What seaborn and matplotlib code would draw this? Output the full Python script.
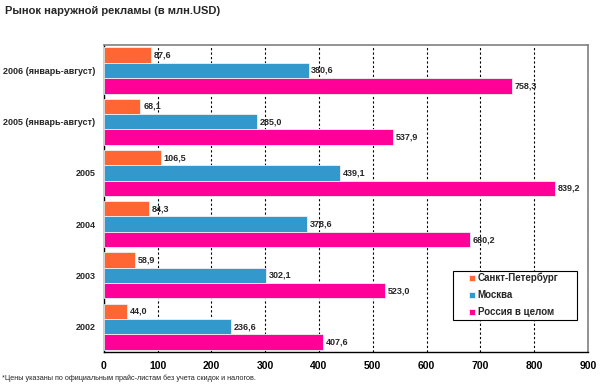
import pandas as pd
import matplotlib.pyplot as plt
import matplotlib.patches as mpatches
import seaborn as sns

periods = ["2006 (январь-август)", "2005 (январь-август)", "2005", "2004", "2003", "2002"]
spb = [87.6, 68.1, 106.5, 84.3, 58.9, 44.0]
moscow = [380.6, 285.0, 439.1, 378.6, 302.1, 236.6]
russia = [758.3, 537.9, 839.2, 680.2, 523.0, 407.6]
series = ["Санкт-Петербург", "Москва", "Россия в целом"]
colors = ["#FF6633", "#3399CC", "#FF0099"]

rows = []
for p, a, b, c in zip(periods, spb, moscow, russia):
    rows.append((p, series[0], a))
    rows.append((p, series[1], b))
    rows.append((p, series[2], c))
df = pd.DataFrame(rows, columns=["period", "series", "value"])

sns.set_style("white")
plt.rcParams["font.family"] = ["Liberation Sans", "DejaVu Sans"]
plt.rcParams["font.weight"] = "bold"

fig = plt.figure(figsize=(6, 3.87), dpi=100)
ax = fig.add_axes([0.173, 0.09, 0.807, 0.794])

sns.barplot(data=df, y="period", x="value", hue="series", order=periods,
            hue_order=series, palette=colors, orient="h", width=0.9,
            saturation=1, edgecolor="#f0f0f0", linewidth=0.6, ax=ax, zorder=3)

for cont in ax.containers:
    ax.bar_label(cont, labels=[f"{v:.1f}".replace(".", ",") for v in cont.datavalues],
                 padding=2, fontsize=6.5, fontweight="bold")

ax.set_xlim(0, 900)
ax.set_xticks(range(0, 901, 100))
ax.xaxis.grid(True, color="black", linestyle=(0, (2, 2)), linewidth=0.8)
ax.set_axisbelow(True)
ax.set_xlabel("")
ax.set_ylabel("")
ax.tick_params(axis="x", labelsize=7.5, length=3, width=0.8, direction="out", colors="black")
ax.tick_params(axis="y", labelsize=6.5, pad=6)
ax.set_yticks(range(len(periods)))
ax.set_yticks([i + 0.5 for i in range(-1, len(periods))], minor=True)
ax.tick_params(axis="y", which="major", length=0)
ax.tick_params(axis="y", which="minor", length=3, width=0.8, color="black")
for lab in ax.get_xticklabels() + ax.get_yticklabels():
    lab.set_fontweight("bold")

for side in ["left", "bottom"]:
    ax.spines[side].set_color("black")
    ax.spines[side].set_linewidth(1)
for side in ["top", "right"]:
    ax.spines[side].set_color("#808080")
    ax.spines[side].set_linewidth(1.2)

# legend box drawn separately so the entries sit indented like the original
ax.add_patch(mpatches.Rectangle((0.721, 0.104), 0.256, 0.16, transform=ax.transAxes,
                                facecolor="white", edgecolor="black", linewidth=0.8,
                                zorder=5))
leg = ax.legend(loc="center left", bbox_to_anchor=(0.755, 0.186), fontsize=7,
                frameon=False, handlelength=0.55, handleheight=0.55,
                handletextpad=0.3, borderpad=0, borderaxespad=0, labelspacing=0.7)
leg.set_zorder(6)
for t in leg.get_texts():
    t.set_fontweight("bold")

fig.text(0.008, 0.985, "Рынок наружной рекламы (в млн.USD)", fontsize=8,
         fontweight="bold", va="top", ha="left")
fig.text(0.003, 0.012, "*Цены указаны по официальным прайс-листам без учета скидок и налогов.",
         fontsize=5.2, fontweight="normal", va="bottom", ha="left")

fig.savefig("out.png", dpi=100)
